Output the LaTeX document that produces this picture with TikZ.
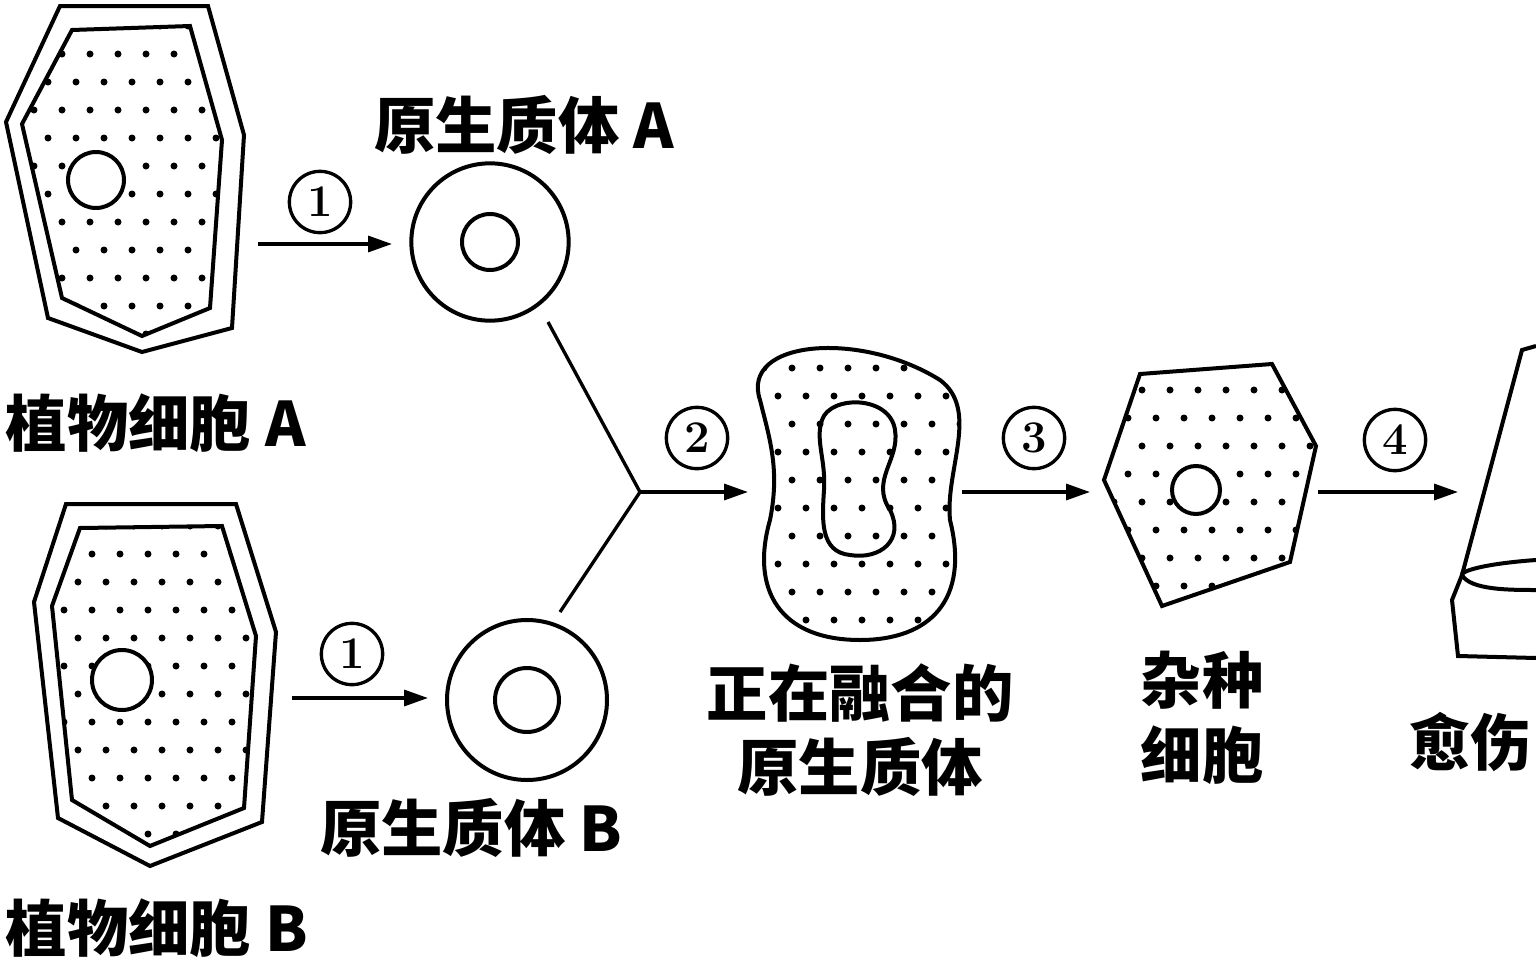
\documentclass[tikz,border=0pt]{standalone}
\usepackage{fontspec}
\newfontfamily\cjk{Noto Sans CJK SC}
\usetikzlibrary{arrows.meta}
\tikzset{every picture/.style={line width=3pt}}
\tikzset{
  lbl/.style={font=\cjk\fontsize{46}{56}\selectfont\bfseries, inner sep=0pt},
  stepnum/.style={draw, circle, line width=2.5pt, inner sep=2pt, minimum size=46pt, font=\fontsize{34}{34}\selectfont\bfseries},
  flow/.style={-{Triangle[length=18pt,width=12pt]}, line width=2.5pt}
}
% dots over a region: x0, number of columns, y0, number of rows
\newcommand{\stipple}[4]{\foreach \i in {0,...,#2}{\foreach \j in {0,...,#4}{\fill ({#1+\i*28+mod(\j,2)*14},{#3+\j*28}) circle (3.5);}}}
\begin{document}
\begin{tikzpicture}[x=0.75pt,y=0.75pt,yscale=-1,xscale=1]
\useasboundingbox (0,0) rectangle (1536,960);

%Shape: plant cell A
\draw (60,6) -- (208,6) -- (244,135) -- (232,328) -- (142,352) -- (48,318) -- (6,122) -- cycle;
\begin{scope}
\clip (72,30) -- (190,26) -- (222,140) -- (210,308) -- (142,336) -- (62,298) -- (22,124) -- cycle;
\stipple{20}{8}{26}{11}
\end{scope}
\draw (72,30) -- (190,26) -- (222,140) -- (210,308) -- (142,336) -- (62,298) -- (22,124) -- cycle;
\draw[fill=white] (96,180) circle (28);
%Shape: plant cell B
\draw (66,504) -- (236,504) -- (276,632) -- (262,822) -- (150,866) -- (58,818) -- (34,602) -- cycle;
\begin{scope}
\clip (80,528) -- (222,526) -- (256,636) -- (244,808) -- (150,846) -- (72,800) -- (52,606) -- cycle;
\stipple{50}{8}{526}{12}
\end{scope}
\draw (80,528) -- (222,526) -- (256,636) -- (244,808) -- (150,846) -- (72,800) -- (52,606) -- cycle;
\draw[fill=white] (122,680) circle (30);

%Protoplasts
\node[draw, circle, minimum size=118pt, inner sep=0pt] (protoA) at (490,242) {};
\draw (protoA.center) circle (28);
\node[draw, circle, minimum size=120pt, inner sep=0pt] (protoB) at (527,700) {};
\draw (protoB.center) circle (32);

%Fusing protoplast
\begin{scope}
\clip (760,400) .. controls (740,340) and (860,330) .. (940,380) .. controls (980,410) and (945,470) .. (950,520) .. controls (970,600) and (930,640) .. (860,640) .. controls (780,640) and (750,590) .. (770,520) .. controls (780,470) and (770,440) .. (760,400) -- cycle;
\stipple{750}{8}{340}{11}
\end{scope}
\draw (760,400) .. controls (740,340) and (860,330) .. (940,380) .. controls (980,410) and (945,470) .. (950,520) .. controls (970,600) and (930,640) .. (860,640) .. controls (780,640) and (750,590) .. (770,520) .. controls (780,470) and (770,440) .. (760,400) -- cycle;
\draw (822,420) .. controls (830,395) and (890,395) .. (895,430) .. controls (900,460) and (870,480) .. (890,510) .. controls (905,540) and (880,560) .. (850,555) .. controls (820,552) and (822,520) .. (824,490) .. controls (826,460) and (815,440) .. (822,420) -- cycle;

%Hybrid cell
\begin{scope}
\clip (1140,374) -- (1272,364) -- (1316,446) -- (1290,562) -- (1162,606) -- (1104,480) -- cycle;
\stipple{1100}{8}{362}{9}
\end{scope}
\draw (1140,374) -- (1272,364) -- (1316,446) -- (1290,562) -- (1162,606) -- (1104,480) -- cycle;
\draw[fill=white] (1196,490) circle (24);

%Flask
\draw (1536,346) -- (1522,350) -- (1462,575) -- (1452,600) -- (1458,656) -- (1536,658);
\draw (1536,560) .. controls (1480,564) and (1460,572) .. (1462,575) .. controls (1470,590) and (1510,590) .. (1536,590);

%Connectors
\coordinate (aEnd) at (258,244); \coordinate (aTip) at (392,244);
\coordinate (bEnd) at (292,698); \coordinate (bTip) at (428,698);
\coordinate (fork) at (640,492); \coordinate (forkTip) at (748,492);
\coordinate (fuseEnd) at (962,492); \coordinate (fuseTip) at (1090,492);
\coordinate (hybEnd) at (1318,492); \coordinate (hybTip) at (1458,492);
\draw[flow] (aEnd) -- (aTip);
\draw[flow] (bEnd) -- (bTip);
\draw[line width=2.5pt] (548,322) -- (fork) -- (560,612);
\draw[flow] (fork) -- (forkTip);
\draw[flow] (fuseEnd) -- (fuseTip);
\draw[flow] (hybEnd) -- (hybTip);

\node[stepnum] (s1a) at (320,202) {1};
\node[stepnum] (s1b) at (352,654) {1};
\node[stepnum] (s2) at (697,438) {2};
\node[stepnum] (s3) at (1034,438) {3};
\node[stepnum] (s4) at (1395,440) {4};

%Labels
\node[lbl, anchor=west] (tA) at (372,125) {原生质体 A};
\node[lbl, anchor=west] (cA) at (4,423) {植物细胞 A};
\node[lbl, anchor=west] (tB) at (318,828) {原生质体 B};
\node[lbl, anchor=west] (cB) at (4,928) {植物细胞 B};
\node[lbl, align=center] (tF) at (860,730) {正在融合的\\原生质体};
\node[lbl, align=center] (tH) at (1202,718) {杂种\\细胞};
\node[lbl, anchor=east] (tC) at (1534,742) {愈伤};
\end{tikzpicture}
\end{document}
